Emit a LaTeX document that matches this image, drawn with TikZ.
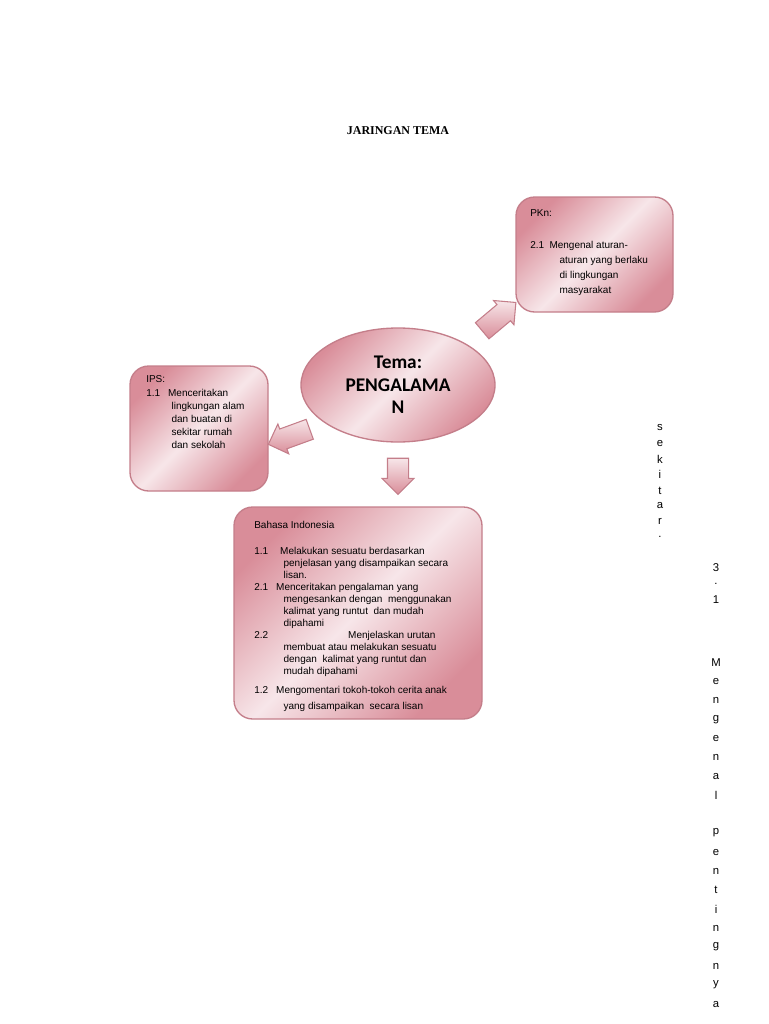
\documentclass[tikz,border=0pt]{standalone}
\usepackage{fontspec}
\setmainfont{Liberation Sans}
\newfontfamily\titlefont{Liberation Serif}
\newfontfamily\calib{Carlito}
\usetikzlibrary{shapes.geometric,shapes.arrows}
\definecolor{pinkedge}{HTML}{C47E8A}
\definecolor{pinkdark}{HTML}{D98D99}
\definecolor{pinklight}{HTML}{F7E6E9}
\tikzset{
  box/.style={draw=pinkedge, line width=1pt, rounded corners=14pt, left color=pinkdark, right color=pinkdark, middle color=pinklight, shading angle=45},
  txt/.style={anchor=north west, inner sep=0pt, align=left, font=\fontsize{7.5}{12}\selectfont},
  blk/.style={single arrow, draw=pinkedge, line width=0.8pt, top color=pinklight, bottom color=pinkdark, single arrow head extend=4pt, single arrow head indent=0pt, inner xsep=0pt, inner ysep=7.5pt},
  vl/.style={font=\fontsize{8.5}{8.5}\selectfont, inner sep=0pt}
}
\begin{document}
\begin{tikzpicture}[x=0.75pt,y=-0.75pt]
\useasboundingbox (0,0) rectangle (768,1024);
\node[font=\titlefont\bfseries\fontsize{9}{10}\selectfont] (title) at (398,131) {JARINGAN TEMA};

% PKn box
\path[box] (516,197) rectangle (673,312);
\node[txt] (pkn) at (530,209) {PKn:};
\node[txt, font=\fontsize{7.5}{11.25}\selectfont] (pkn1) at (530,241) {2.1\hspace{4pt}Mengenal aturan-\\\hspace*{22pt}aturan yang berlaku\\\hspace*{22pt}di lingkungan\\\hspace*{22pt}masyarakat};

% IPS box
\path[box] (130,366) rectangle (268,491);
\node[txt] (ips) at (146,375) {IPS:};
\node[txt, font=\fontsize{7.5}{9.75}\selectfont] (ips1) at (146,389) {1.1\hspace{6pt}Menceritakan\\\hspace*{19pt}lingkungan alam\\\hspace*{19pt}dan buatan di\\\hspace*{19pt}sekitar rumah\\\hspace*{19pt}dan sekolah};

% Bahasa box
\path[box] (234,507) rectangle (482,719);
\node[txt] (bi) at (254,521) {Bahasa Indonesia};
\node[txt, font=\fontsize{7.5}{9}\selectfont] (b11) at (254,547) {1.1\hspace{9pt}Melakukan sesuatu berdasarkan\\\hspace*{22pt}penjelasan yang disampaikan secara\\\hspace*{22pt}lisan.};
\node[txt, font=\fontsize{7.5}{9}\selectfont] (b21) at (254,583) {2.1\hspace{6pt}Menceritakan pengalaman yang\\\hspace*{22pt}mengesankan dengan\ \ menggunakan\\\hspace*{22pt}kalimat yang runtut\ \ dan mudah\\\hspace*{22pt}dipahami};
\node[txt, font=\fontsize{7.5}{9}\selectfont] (b22) at (254,631) {2.2\hspace{60pt}Menjelaskan urutan\\\hspace*{22pt}membuat atau melakukan sesuatu\\\hspace*{22pt}dengan\ \ kalimat yang runtut dan\\\hspace*{22pt}mudah dipahami};
\node[txt, font=\fontsize{7.5}{12}\selectfont] (b12) at (254,686) {1.2\hspace{6pt}Mengomentari tokoh-tokoh cerita anak\\\hspace*{22pt}yang disampaikan\ \ secara lisan};

% Ellipse
\node[ellipse, draw=pinkedge, line width=1pt, minimum width=194*0.75pt, minimum height=114*0.75pt, inner sep=0pt, left color=pinkdark, right color=pinkdark, middle color=pinklight, shading angle=45, align=center, font=\calib\bfseries\fontsize{14.5}{17}\selectfont] (tema) at (398,385) {Tema:\\PENGALAMA\\N};

% block arrows
\node[blk, minimum height=33pt, rotate=40] (a1) at (495,320) {};
\node[blk, minimum height=33pt, rotate=200] (a2) at (294,435) {};
\node[blk, minimum height=27pt, rotate=-90] (a3) at (398,471) {};

% vertical letters
\foreach \c [count=\i from 0] in {s,e,k,i,t,a,r,.}
  \node[vl] (v\i) at (660,428+15.6*\i) {\c};
\node[vl] (n3) at (716,568) {3};
\node[vl] (nd) at (716,584) {.};
\node[vl] (n1) at (716,600) {1};
\foreach \c [count=\i from 0] in {M,e,n,g,e,n,a,l}
  \node[vl] (m\i) at (716,663+18.9*\i) {\c};
\foreach \c [count=\i from 0] in {p,e,n,t,i,n,g,n,y,a}
  \node[vl] (p\i) at (716,833+19*\i) {\c};
\end{tikzpicture}
\end{document}
